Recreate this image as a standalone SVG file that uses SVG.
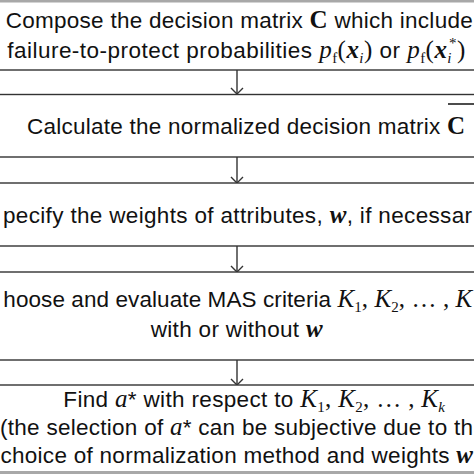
<svg xmlns="http://www.w3.org/2000/svg" width="474" height="474" viewBox="0 0 474 474">
<style>
.t{font-family:"Liberation Sans",Arial,sans-serif;font-size:22.5px;fill:#111}
.m{font-family:"Liberation Serif","Times New Roman",serif;font-size:25px}
.i{font-style:italic}
.b{font-weight:bold}
.s{font-size:15px}
.box{fill:#fff;stroke:#333;stroke-width:1.4}
.edge{stroke:#333;stroke-width:1.4;fill:none}
.band{fill:#a8a8a8}
</style>
<defs>
<marker id="ah" viewBox="-1 -7 8 14" refX="6" refY="0" markerWidth="8" markerHeight="14" markerUnits="userSpaceOnUse" orient="auto">
<path d="M0,-6 L6,0 L0,6" fill="none" stroke="#333" stroke-width="1.4"/>
</marker>
</defs>
<rect width="474" height="474" fill="#fff"/>
<g id="connectors">
<line class="edge" x1="237" y1="70" x2="237" y2="94" marker-end="url(#ah)"/>
<line class="edge" x1="237" y1="157" x2="237" y2="183" marker-end="url(#ah)"/>
<line class="edge" x1="237" y1="246" x2="237" y2="272" marker-end="url(#ah)"/>
<line class="edge" x1="237" y1="360" x2="237" y2="385" marker-end="url(#ah)"/>
</g>
<g id="node1">
<rect class="box" x="-5" y="-10" width="484" height="80"/>
<text class="t" x="5.7" y="27.7" textLength="467" lengthAdjust="spacing">Compose the decision matrix <tspan class="m b">C</tspan> which include</text>
<text class="t" x="7.3" y="57.7" textLength="458" lengthAdjust="spacing">failure-to-protect probabilities <tspan class="m i">p</tspan><tspan class="m s" dy="5">f</tspan><tspan class="m" dy="-5">(</tspan><tspan class="m i b">x</tspan><tspan class="m i s" dy="5">i</tspan><tspan class="m" dy="-5">)</tspan> or <tspan class="m i">p</tspan><tspan class="m s" dy="5">f</tspan><tspan class="m" dy="-5">(</tspan><tspan class="m i b">x</tspan><tspan class="m i s" dy="5">i</tspan><tspan class="m s" dx="-3" dy="-15">*</tspan><tspan class="m" dy="10">)</tspan></text>
</g>
<g id="node2">
<rect class="box" x="-5" y="94.5" width="484" height="62.5"/>
<text class="t" x="27" y="134" textLength="438" lengthAdjust="spacing">Calculate the normalized decision matrix <tspan class="m b">C</tspan></text>
<line x1="448" y1="104" x2="476" y2="104" stroke="#111" stroke-width="1.5"/>
</g>
<g id="node3">
<rect class="box" x="-5" y="183" width="484" height="63"/>
<text class="t" x="3" y="222.7" textLength="469" lengthAdjust="spacing">pecify the weights of attributes, <tspan class="m i b">w</tspan>, if necessar</text>
</g>
<g id="node4">
<rect class="box" x="-5" y="272" width="484" height="88"/>
<text class="t" x="3.3" y="306.7" textLength="469" lengthAdjust="spacing">hoose and evaluate MAS criteria <tspan class="m i">K</tspan><tspan class="m s" dy="5">1</tspan><tspan class="m" dy="-5">, </tspan><tspan class="m i">K</tspan><tspan class="m s" dy="5">2</tspan><tspan class="m" dy="-5">, … , </tspan><tspan class="m i">K</tspan></text>
<text class="t" x="150.7" y="337.3" textLength="172" lengthAdjust="spacing">with or without <tspan class="m i b">w</tspan></text>
</g>
<g id="node5">
<rect class="box" x="-5" y="385" width="484" height="95"/>
<text class="t" x="63.3" y="407.3" textLength="381.7" lengthAdjust="spacing">Find <tspan class="m i">a</tspan>* with respect to <tspan class="m i">K</tspan><tspan class="m s" dy="5">1</tspan><tspan class="m" dy="-5">, </tspan><tspan class="m i">K</tspan><tspan class="m s" dy="5">2</tspan><tspan class="m" dy="-5">, … , </tspan><tspan class="m i">K</tspan><tspan class="m i s" dy="5">k</tspan></text>
<text class="t" x="0" y="434.5" textLength="473" lengthAdjust="spacing">(the selection of <tspan class="m i">a</tspan>* can be subjective due to th</text>
<text class="t" x="0.5" y="463" textLength="472.5" lengthAdjust="spacing">choice of normalization method and weights <tspan class="m i b">w</tspan></text>
</g>
<rect class="band" x="0" y="0" width="474" height="2.5"/>
<rect class="band" x="0" y="471" width="474" height="3"/>
</svg>
